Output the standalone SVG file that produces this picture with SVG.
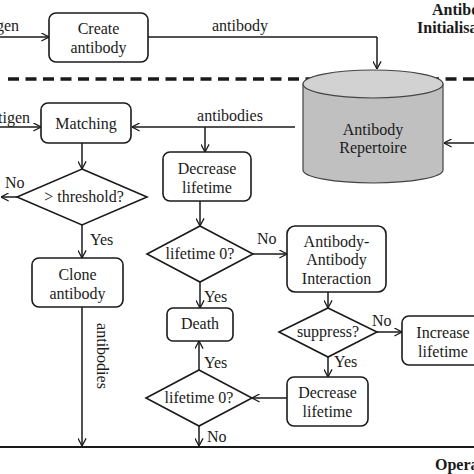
<svg xmlns="http://www.w3.org/2000/svg" width="474" height="474" viewBox="0 0 474 474" font-family="Liberation Serif, Times New Roman, DejaVu Serif, serif">
<defs>
<marker id="ah" viewBox="0 0 10 10" refX="9.5" refY="5" markerWidth="9" markerHeight="9" markerUnits="userSpaceOnUse" orient="auto">
<path d="M1,0.5 L9.5,5 L1,9.5" fill="none" stroke="#1a1a1a" stroke-width="1.4"/>
</marker>
<style>
text{font-family:"Liberation Serif","Times New Roman","DejaVu Serif",serif;font-size:16px;fill:#1a1a1a}
.c{text-anchor:middle}
.b{font-weight:bold}
.box{fill:#fff;stroke:#1a1a1a;stroke-width:1.6}
.ln{fill:none;stroke:#1a1a1a;stroke-width:1.5}
.ar{fill:none;stroke:#1a1a1a;stroke-width:1.5;marker-end:url(#ah)}
</style>
</defs>
<rect width="474" height="474" fill="#fff"/>
<line x1="8" y1="79" x2="474" y2="79" stroke="#1a1a1a" stroke-width="3.5" stroke-dasharray="11,6.5"/>
<line x1="0" y1="447" x2="474" y2="447" stroke="#1a1a1a" stroke-width="2"/>
<text x="432" y="15" class="b">Antibody</text>
<text x="417" y="33" class="b">Initialisation</text>
<text x="435" y="470" class="b">Operation</text>
<g id="connectors">
<path class="ar" d="M0,37 H49"/>
<path class="ln" d="M148,37 H377"/>
<path class="ar" d="M377,37 V69"/>
<path class="ar" d="M474,143 H444"/>
<path class="ar" d="M295,127 H132"/>
<path class="ar" d="M205,127 V152"/>
<path class="ar" d="M0,127 H41"/>
<path class="ar" d="M82,143 V169"/>
<path class="ar" d="M17,197 H1"/>
<path class="ar" d="M82,225 V258"/>
<path class="ar" d="M82,307 V446"/>
<path class="ar" d="M200,201 V226"/>
<path class="ar" d="M253,254 H287"/>
<path class="ar" d="M200,282 V308"/>
<path class="ar" d="M199,370 V341"/>
<path class="ar" d="M199,426 V446"/>
<path class="ar" d="M328,292 V308"/>
<path class="ar" d="M377,332 H402"/>
<path class="ar" d="M328,357 V377"/>
<path class="ar" d="M287,398 H252"/>
<text x="240" y="31" class="c">antibody</text>
<text x="230" y="121" class="c">antibodies</text>
<text x="-17" y="123">antigen</text>
<text x="-28" y="31">antigen</text>
<text x="5" y="188">No</text>
<text x="90" y="245">Yes</text>
<text x="92" y="356" class="c" transform="rotate(90 92 356)" dy="-5">antibodies</text>
<text x="257" y="244">No</text>
<text x="204" y="302">Yes</text>
<text x="204" y="368">Yes</text>
<text x="207" y="442">No</text>
<text x="372" y="326">No</text>
<text x="334" y="367">Yes</text>
</g>
<g id="create">
<rect class="box" x="49" y="13" width="99" height="49" rx="7"/>
<text x="98.5" y="34" class="c">Create</text>
<text x="98.5" y="53" class="c">antibody</text>
</g>
<g id="repertoire">
<path d="M303,84 V170 A70,13 0 0 0 443,170 V84 Z" fill="#c0c0c0" stroke="#444" stroke-width="1.2"/>
<ellipse cx="373" cy="84" rx="70" ry="14" fill="#d2d2d2" stroke="#444" stroke-width="1.2"/>
<text x="373" y="135" class="c">Antibody</text>
<text x="373" y="153" class="c">Repertoire</text>
</g>
<g id="matching">
<rect class="box" x="41" y="103" width="90" height="40" rx="7"/>
<text x="86" y="129" class="c">Matching</text>
</g>
<g id="threshold">
<polygon class="box" points="82,169 147,197 82,225 17,197"/>
<text x="84" y="202" class="c">&gt; threshold?</text>
</g>
<g id="clone">
<rect class="box" x="32" y="258" width="91" height="49" rx="7"/>
<text x="77.5" y="280" class="c">Clone</text>
<text x="77.5" y="299" class="c">antibody</text>
</g>
<g id="decrease1">
<rect class="box" x="163" y="152" width="88" height="49" rx="7"/>
<text x="207" y="174" class="c">Decrease</text>
<text x="207" y="193" class="c">lifetime</text>
</g>
<g id="lifetime1">
<polygon class="box" points="200,226 253,254 200,282 147,254"/>
<text x="200" y="259" class="c">lifetime 0?</text>
</g>
<g id="death">
<rect class="box" x="167" y="308" width="66" height="33" rx="6"/>
<text x="200" y="329" class="c">Death</text>
</g>
<g id="lifetime2">
<polygon class="box" points="199,370 252,398 199,426 146,398"/>
<text x="199" y="403" class="c">lifetime 0?</text>
</g>
<g id="interaction">
<rect class="box" x="287" y="226" width="99" height="66" rx="8"/>
<text x="336.5" y="247" class="c">Antibody-</text>
<text x="336.5" y="265" class="c">Antibody</text>
<text x="336.5" y="284" class="c">Interaction</text>
</g>
<g id="suppress">
<polygon class="box" points="328,308 377,332 328,357 279,332"/>
<text x="328" y="337" class="c">suppress?</text>
</g>
<g id="increase">
<rect class="box" x="402" y="316" width="80" height="49" rx="7"/>
<text x="443" y="338" class="c">Increase</text>
<text x="443" y="357" class="c">lifetime</text>
</g>
<g id="decrease2">
<rect class="box" x="287" y="377" width="81" height="49" rx="7"/>
<text x="327.5" y="398" class="c">Decrease</text>
<text x="327.5" y="417" class="c">lifetime</text>
</g>
</svg>
